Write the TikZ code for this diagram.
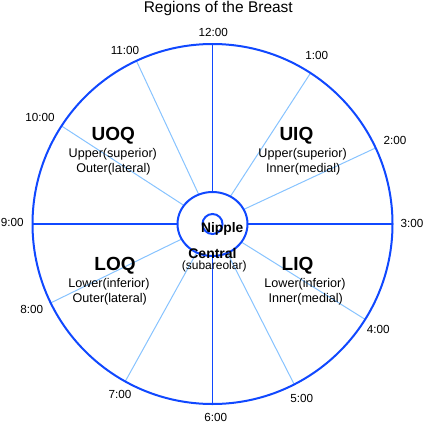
\documentclass[tikz,border=0pt]{standalone}
\usepackage{fontspec}
\setmainfont{Liberation Sans}
\usetikzlibrary{shapes.geometric}
\definecolor{mainblue}{RGB}{16,72,255}
\definecolor{lightblue}{RGB}{135,195,255}
\begin{document}
\begin{tikzpicture}[x=1pt,y=-1pt,
  clocklbl/.style={anchor=base,inner sep=0pt,font=\fontsize{11.7}{14}\selectfont},
  quadlbl/.style={anchor=base,inner sep=0pt,font=\fontsize{19}{22}\selectfont\bfseries},
  sublbl/.style={anchor=base,inner sep=0pt,font=\fontsize{12.6}{15}\selectfont},
  mainspoke/.style={draw=mainblue,line width=1.7pt},
  thinspoke/.style={draw=lightblue,line width=1pt},
  ringline/.style={draw=mainblue,line width=2pt},
  ring/.style={inner sep=0pt,outer sep=0pt}]
\useasboundingbox (0,0) rectangle (425,423);
\coordinate (C) at (212.5,224);
% circle outlines as nodes (for anchors)
\node[ring,circle,minimum size=360pt] (outer) at (C) {};
\node[ring,ellipse,minimum width=70pt,minimum height=64pt] (areola) at (C) {};
\node[ring,circle,minimum size=20pt] (nipplec) at (C) {};
% thin spokes
\foreach \a in {57.8,25,-32.5,-63.4,-119.3,-154.6,147.3,115}
  \draw[thinspoke] (areola.\a) -- (outer.\a);
% main spokes
\foreach \a in {90,0,-90,180}
  \draw[mainspoke] (areola.\a) -- (outer.\a);
% rings
\draw[ringline] (C) circle[radius=180pt];
\draw[ringline] (C) ellipse[x radius=35pt,y radius=32pt];
\draw[ringline] (C) circle[radius=10pt];
% title
\node[anchor=base,inner sep=0pt,font=\fontsize{15.5}{18}\selectfont] (title) at (218.3,12.3) {Regions of the Breast};
% clock labels
\node[clocklbl] (l12) at (213.3,36.2) {12:00};
\node[clocklbl] (l1) at (316.7,59.9) {1:00};
\node[clocklbl] (l2) at (395,144.9) {2:00};
\node[clocklbl] (l3) at (412,227.2) {3:00};
\node[clocklbl] (l4) at (378.3,333.2) {4:00};
\node[clocklbl] (l5) at (301.7,402.5) {5:00};
\node[clocklbl] (l6) at (215.7,421.2) {6:00};
\node[clocklbl] (l7) at (120,398.2) {7:00};
\node[clocklbl] (l8) at (31.7,313.2) {8:00};
\node[clocklbl] (l9) at (12.3,226.9) {9:00};
\node[clocklbl] (l10) at (40,121.5) {10:00};
\node[clocklbl] (l11) at (125,54.2) {11:00};
% quadrant labels
\node[quadlbl] (uoq) at (113.3,140.7) {UOQ};
\node[sublbl] (uoq1) at (112.8,157.3) {Upper(superior)};
\node[sublbl] (uoq2) at (113.4,172.3) {Outer(lateral)};
\node[quadlbl] (uiq) at (296.4,140.7) {UIQ};
\node[sublbl] (uiq1) at (302.6,157.3) {Upper(superior)};
\node[sublbl] (uiq2) at (303.3,172.3) {Inner(medial)};
\node[quadlbl] (loq) at (115,270.7) {LOQ};
\node[sublbl] (loq1) at (108.9,287.3) {Lower(inferior)};
\node[sublbl] (loq2) at (109.8,302.3) {Outer(lateral)};
\node[quadlbl] (liq) at (297.5,270.7) {LIQ};
\node[sublbl] (liq1) at (305,287.3) {Lower(inferior)};
\node[sublbl] (liq2) at (305.7,302.3) {Inner(medial)};
% centre labels
\node[anchor=base,inner sep=0pt,font=\fontsize{13.8}{16}\selectfont\bfseries] (nipple) at (222.2,232.7) {Nipple};
\node[anchor=base,inner sep=0pt,font=\fontsize{14}{16}\selectfont\bfseries] (central) at (212.5,258) {Central};
\node[anchor=base,inner sep=0pt,font=\fontsize{12}{14}\selectfont] (subareolar) at (214.2,269.8) {(subareolar)};
\end{tikzpicture}
\end{document}
